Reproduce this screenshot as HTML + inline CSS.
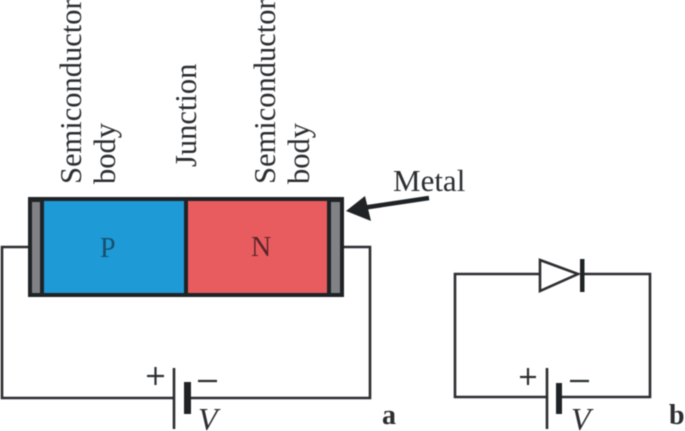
<!DOCTYPE html>
<html>
<head>
<meta charset="utf-8">
<style>
html,body{margin:0;padding:0;background:#fff;width:685px;height:431px;overflow:hidden}
svg{display:block;filter:blur(.4px)}
text{font-family:"Liberation Serif",serif;fill:#2b2d30}
</style>
</head>
<body>
<svg width="685" height="431" viewBox="0 0 685 431" xmlns="http://www.w3.org/2000/svg">
<rect width="685" height="431" fill="#fff"/>

<!-- Rotated labels -->
<g font-size="30.500">
<text transform="translate(81,184) rotate(-90)">Semiconductor</text>
<text transform="translate(115,184) rotate(-90)">body</text>
<text transform="translate(196,167) rotate(-90)">Junction</text>
<text transform="translate(275,184) rotate(-90)">Semiconductor</text>
<text transform="translate(309,184) rotate(-90)">body</text>
</g>
<text x="393" y="191" font-size="31">Metal</text>

<!-- Device body -->
<rect x="28" y="197" width="316" height="100" fill="#1f2326"/>
<rect x="32" y="202" width="8" height="91" fill="#808285"/>
<rect x="44" y="201" width="140" height="92" fill="#1e9ad6"/>
<rect x="188" y="201" width="139" height="92" fill="#e85c60"/>
<rect x="331" y="202" width="9" height="91" fill="#808285"/>
<text x="100" y="257" font-size="28" style="fill:#17506f">P</text>
<text x="251" y="256" font-size="28" style="fill:#5a2528">N</text>

<!-- Metal arrow -->
<line x1="429" y1="198" x2="362" y2="208" stroke="#1f2326" stroke-width="4.500"/>
<polygon points="346,211 365,196 371,221" fill="#1f2326"/>

<!-- Circuit a -->
<g fill="none" stroke="#2b2d30" stroke-width="2.600">
<polyline points="28,247 2,247 2,398 174,398"/>
<polyline points="188,398 370,398 370,247 344,247"/>
<line x1="174" y1="368" x2="174" y2="429"/>
</g>
<rect x="184" y="382" width="7" height="32" fill="#1f2326"/>
<g stroke="#2b2d30" stroke-width="2.200">
<line x1="147" y1="376" x2="164" y2="376"/>
<line x1="155.500" y1="367" x2="155.500" y2="385"/>
<line x1="198" y1="381" x2="217" y2="381"/>
</g>
<text x="198" y="430" font-size="32" font-style="italic">V</text>
<text x="382" y="424" font-size="28" font-weight="bold">a</text>

<!-- Circuit b -->
<g fill="none" stroke="#2b2d30" stroke-width="2.600">
<polyline points="540,274 455,274 455,397 547,397"/>
<polyline points="582,274 650,274 650,397 558,397"/>
<polygon points="540,260 578,274 540,291"/>
<line x1="547" y1="368" x2="547" y2="429"/>
</g>
<rect x="580" y="259" width="4.500" height="33" fill="#1f2326"/>
<rect x="556" y="383" width="6" height="31" fill="#1f2326"/>
<g stroke="#2b2d30" stroke-width="2.200">
<line x1="520" y1="377" x2="536" y2="377"/>
<line x1="528" y1="368" x2="528" y2="385"/>
<line x1="570" y1="381" x2="589" y2="381"/>
</g>
<text x="571" y="430" font-size="32" font-style="italic">V</text>
<text x="669" y="424" font-size="28" font-weight="bold">b</text>
</svg>
</body>
</html>
